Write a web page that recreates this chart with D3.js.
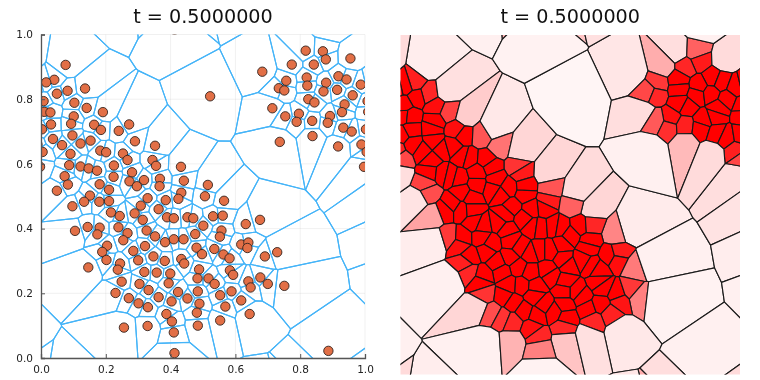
<!DOCTYPE html>
<html>
<head>
<meta charset="utf-8">
<script src="https://cdn.jsdelivr.net/npm/d3@7"></script>
<style>
  html, body { margin: 0; background: #fff; }
  svg { display: block; filter: blur(0.3px); }
  text { font-family: "DejaVu Sans", sans-serif; }
</style>
</head>
<body>
<svg id="chart" width="760" height="380"></svg>
<script>
const titleText = 't = 0.5000000';
const tickValues = [0, 0.2, 0.4, 0.6, 0.8, 1];

const pointX = [
  .076,.041,.016,.082,.136,.049,.008,.103,.141,.191,.010,.029,.101,.093,.031,.164,.185,.240,.272,.003,
  .097,.037,.065,.122,.153,.290,.352,.005,.091,.183,.201,.253,.267,.344,.355,.432,.997,.087,.122,.147,
  .173,.225,.281,.224,.073,.083,.273,.296,.318,.367,.366,.441,.049,.181,.210,.151,.433,.329,.424,.133,
  .180,.210,.097,.385,.308,.216,.243,.289,.363,.314,.389,.410,.452,.470,.501,.105,.144,.181,.174,.239,
  .267,.326,.352,.254,.383,.410,.440,.476,.480,.204,.321,.189,.285,.202,.347,.300,.382,.433,.442,.497,
  .146,.244,.237,.488,.319,.357,.399,.483,.249,.304,.394,.332,.230,.423,.484,.271,.301,.363,.403,.452,
  .489,.330,.387,.481,.404,.256,.329,.484,.410,.412,.565,.676,.632,.531,.561,.557,.552,.618,.640,.637,
  .535,.563,.582,.691,.729,.583,.593,.517,.536,.640,.677,.700,.647,.751,.553,.588,.618,.569,.644,.553,
  .887,.817,.870,.879,.955,.774,.842,.683,.757,.820,.918,.943,.880,.822,.987,.734,.751,.872,.914,.962,
  .522,.825,.844,.937,.714,.929,.796,.892,.754,.789,.837,.885,.933,.959,.838,.737,.989,.917,.515,.506
];
const pointY = [
  .906,.860,.852,.826,.833,.817,.794,.789,.773,.760,.761,.759,.747,.724,.722,.721,.705,.702,.722,.707,
  .688,.677,.658,.663,.672,.670,.656,.637,.631,.641,.636,.632,.612,.612,.594,.591,.591,.596,.592,.586,
  .579,.595,.574,.560,.562,.536,.546,.531,.550,.554,.531,.548,.517,.537,.520,.502,.511,.494,.492,.483,
  .483,.485,.469,.488,.471,.450,.439,.447,.460,.427,.435,.432,.435,.432,.409,.393,.405,.403,.382,.404,
  .386,.394,.376,.364,.358,.367,.367,.383,.341,.347,.346,.328,.331,.303,.314,.302,.300,.306,.292,.321,
  .280,.292,.273,.274,.266,.264,.261,.246,.236,.229,.231,.210,.201,.204,.206,.185,.169,.188,.175,.184,
  .168,.157,.136,.140,.113,.094,.099,.100,.079,.015,.486,.427,.414,.438,.440,.394,.375,.351,.357,.340,
  .337,.320,.308,.314,.327,.271,.257,.246,.229,.237,.249,.229,.218,.223,.194,.206,.178,.159,.136,.116,
  .022,.950,.948,.923,.926,.907,.907,.885,.857,.867,.871,.861,.851,.842,.845,.834,.827,.824,.829,.812,
  .809,.800,.790,.784,.772,.760,.755,.748,.747,.730,.733,.727,.712,.700,.686,.668,.660,.654,.535,.500
];
// red intensity of each cell
const cellShade = [
  .07,.88,1,.85,.12,1,1,.95,.75,.2,1,1,1,1,1,.95,1,.67,.09,1,
  1,1,1,1,1,.55,.16,.72,1,1,1,1,1,.8,.9,.16,.13,1,1,1,
  1,1,1,1,.75,.7,1,1,1,1,1,.67,.11,1,1,1,.9,1,1,1,
  1,1,.36,1,1,1,1,1,1,1,1,1,1,1,1,.07,.78,1,.95,1,
  1,1,1,1,1,1,1,1,1,1,1,.88,1,.85,1,1,1,1,1,1,
  .06,1,1,1,1,1,1,1,.8,1,1,1,.16,1,1,.7,.8,1,1,1,
  1,.85,.95,.85,.85,.06,.3,.23,.5,.05,.16,.08,.48,1,.85,1,1,1,.9,.95,
  1,1,1,.52,.06,1,1,1,1,1,.78,.5,.92,.05,1,1,.87,.85,.09,.12,
  .06,.13,.62,.9,.14,.32,.85,.1,.78,1,1,1,1,1,1,.72,.85,1,1,1,
  .04,1,1,1,.13,1,.95,1,.65,.82,.88,1,1,1,.27,.06,.88,.14,.14,.62
];

const svg = d3.select('#chart');
const leftX = d3.scaleLinear().domain([0, 1]).range([41, 365]);
const leftY = d3.scaleLinear().domain([0, 1]).range([358, 34.5]);
const rightX = d3.scaleLinear().domain([0, 1]).range([400.5, 740]);
const rightY = d3.scaleLinear().domain([0, 1]).range([374.5, 35]);
const shadeColor = d3.scaleLinear().domain([0, 1]).range(['#ffffff', '#ff0000']);

// periodic domain: every site is repeated in the eight neighbouring boxes
const offsets = d3.cross([0, -1, 1], [0, -1, 1]);
const images = offsets.flatMap(([dx, dy]) =>
  pointX.map((x, i) => ({ i, x: x + dx, y: pointY[i] + dy })));
const voronoi = d3.Delaunay
  .from(images, (d) => d.x, (d) => d.y)
  .voronoi([-1, -1, 2, 2]);
const visible = images
  .map((d, k) => ({ ...d, k }))
  .filter((d) => d.x > -0.6 && d.x < 1.6 && d.y > -0.6 && d.y < 1.6);

const cellPath = (d, x, y) => {
  const poly = voronoi.cellPolygon(d.k);
  return poly ? d3.line().x((p) => x(p[0])).y((p) => y(p[1]))(poly) + 'Z' : null;
};

const defs = svg.append('defs');
const addClip = (id, x, y) => defs.append('clipPath').attr('id', id)
  .append('rect')
  .attr('x', x(0)).attr('y', y(1))
  .attr('width', x(1) - x(0)).attr('height', y(0) - y(1));
addClip('clip-left', leftX, leftY);
addClip('clip-right', rightX, rightY);

// left panel: grid, mesh, particles, axes
const gridLeft = svg.append('g').attr('stroke', '#000').attr('stroke-opacity', 0.06);
tickValues.forEach((t) => {
  gridLeft.append('line').attr('x1', leftX(t)).attr('x2', leftX(t)).attr('y1', leftY(0)).attr('y2', leftY(1));
  gridLeft.append('line').attr('y1', leftY(t)).attr('y2', leftY(t)).attr('x1', leftX(0)).attr('x2', leftX(1));
});

const leftPlot = svg.append('g').attr('clip-path', 'url(#clip-left)');
leftPlot.selectAll('path.mesh').data(visible).join('path')
  .attr('class', 'mesh')
  .attr('d', (d) => cellPath(d, leftX, leftY))
  .attr('fill', 'none')
  .attr('stroke', '#45b4f8')
  .attr('stroke-width', 1.15);
leftPlot.selectAll('circle').data(images).join('circle')
  .attr('cx', (d) => leftX(d.x))
  .attr('cy', (d) => leftY(d.y))
  .attr('r', 4.7)
  .attr('fill', '#e26f46')
  .attr('stroke', '#33241e')
  .attr('stroke-width', 0.9);

const xAxis = svg.append('g').attr('transform', `translate(0,${leftY(0)})`)
  .call(d3.axisBottom(leftX).tickValues(tickValues).tickFormat(d3.format('.1f')).tickSize(-4).tickPadding(8));
const yAxis = svg.append('g').attr('transform', `translate(${leftX(0)},0)`)
  .call(d3.axisLeft(leftY).tickValues(tickValues).tickFormat(d3.format('.1f')).tickSize(-4).tickPadding(8));
[xAxis, yAxis].forEach((axis) => {
  axis.selectAll('text').style('font-size', '10.5px').style('fill', '#222');
  axis.selectAll('.domain,.tick line').attr('stroke', '#555');
  axis.select('.domain').attr('stroke-width', 1.3);
});

// right panel: shaded cells only
const rightPlot = svg.append('g').attr('clip-path', 'url(#clip-right)');
rightPlot.selectAll('path').data(visible).join('path')
  .attr('d', (d) => cellPath(d, rightX, rightY))
  .attr('fill', (d) => shadeColor(cellShade[d.i]))
  .attr('stroke', '#1a1a1a')
  .attr('stroke-width', 1.15);

// titles
[[leftX, leftY], [rightX, rightY]].forEach(([x, y]) => {
  svg.append('text')
    .attr('x', (x(0) + x(1)) / 2)
    .attr('y', 23)
    .attr('text-anchor', 'middle')
    .style('font-size', '19.2px')
    .style('fill', '#111')
    .text(titleText);
});
</script>
</body>
</html>
